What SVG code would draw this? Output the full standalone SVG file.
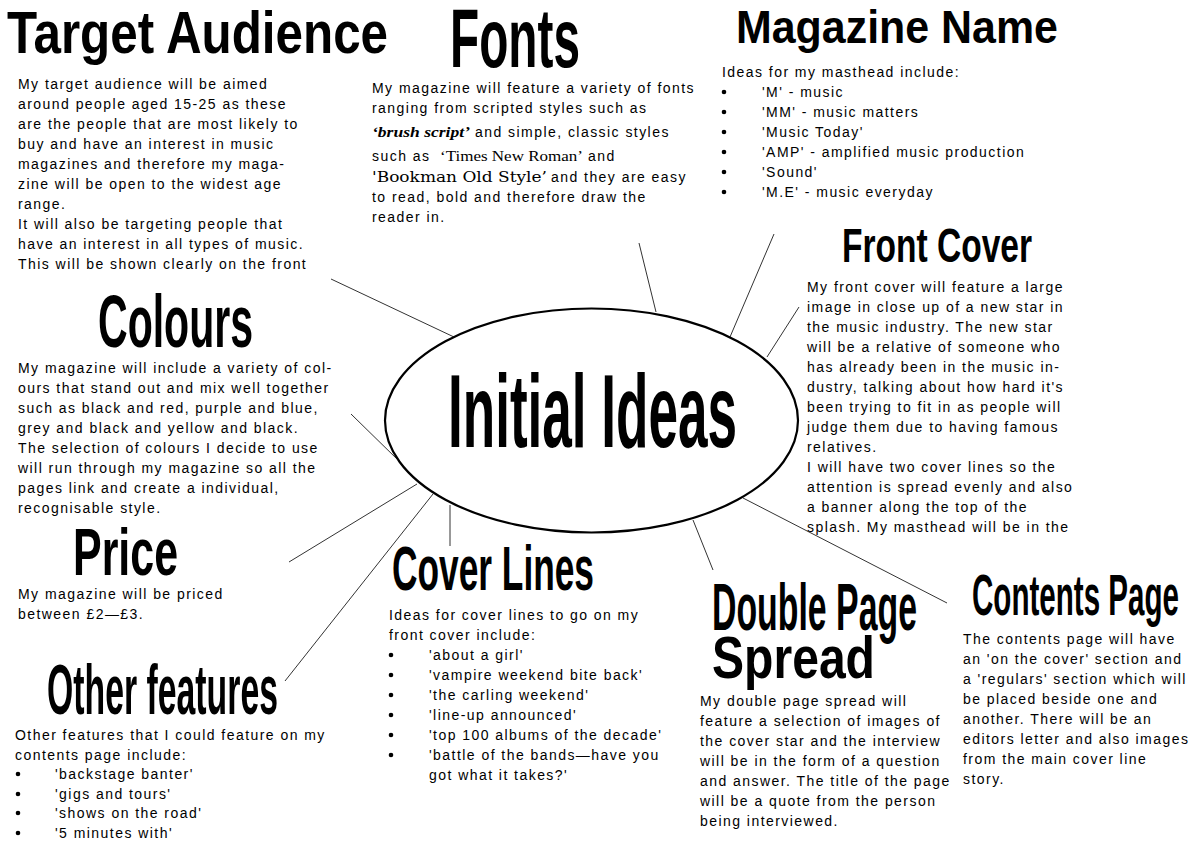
<svg xmlns="http://www.w3.org/2000/svg" width="1203" height="855" viewBox="0 0 1203 855">
<style>
.h{font-family:"Liberation Sans",Arial,sans-serif;font-weight:bold;fill:#000}
.b{font-family:"Liberation Sans",Arial,sans-serif;font-size:14px;letter-spacing:1.45px;fill:#000}
.c line{stroke:#333;stroke-width:1}
.dot{fill:#000}
</style>
<rect width="1203" height="855" fill="#fff"/>
<g class="c" id="connectors">
<line x1="331" y1="279" x2="454" y2="337"/>
<line x1="351" y1="414" x2="398" y2="460"/>
<line x1="417" y1="484" x2="289" y2="562"/>
<line x1="433" y1="494" x2="285" y2="681"/>
<line x1="450" y1="505" x2="450" y2="546"/>
<line x1="639" y1="243" x2="656" y2="312"/>
<line x1="774" y1="234" x2="730" y2="337"/>
<line x1="799" y1="307" x2="767" y2="357"/>
<line x1="693" y1="520" x2="713" y2="570"/>
<line x1="743" y1="498" x2="947" y2="603"/>
</g>
<g id="center">
<ellipse cx="591.5" cy="420.5" rx="206.5" ry="112" fill="#fff" stroke="#000" stroke-width="2.2"/>
<text class="h" x="448" y="447" font-size="103" textLength="289" lengthAdjust="spacingAndGlyphs">Initial Ideas</text>
</g>
<g id="target-audience">
<text class="h" x="7" y="53" font-size="60" textLength="381" lengthAdjust="spacingAndGlyphs">Target Audience</text>
<text class="b">
<tspan x="18" y="89">My target audience will be aimed</tspan>
<tspan x="18" y="109">around people aged 15-25 as these</tspan>
<tspan x="18" y="129">are the people that are most likely to</tspan>
<tspan x="18" y="149">buy and have an interest in music</tspan>
<tspan x="18" y="169">magazines and therefore my maga-</tspan>
<tspan x="18" y="189">zine will be open to the widest age</tspan>
<tspan x="18" y="209">range.</tspan>
<tspan x="18" y="229">It will also be targeting people that</tspan>
<tspan x="18" y="249">have an interest in all types of music.</tspan>
<tspan x="18" y="269">This will be shown clearly on the front</tspan>
</text>
</g>
<g id="fonts">
<text class="h" x="450" y="67" font-size="84" textLength="130" lengthAdjust="spacingAndGlyphs">Fonts</text>
<text class="b">
<tspan x="372" y="93">My magazine will feature a variety of fonts</tspan>
<tspan x="372" y="113">ranging from scripted styles such as</tspan>
<tspan x="475" y="137">and simple, classic styles</tspan>
<tspan x="372" y="161">such as</tspan>
<tspan x="588" y="161">and</tspan>
<tspan x="551" y="182">and they are easy</tspan>
<tspan x="372" y="202">to read, bold and therefore draw the</tspan>
<tspan x="372" y="222">reader in.</tspan>
</text>
<text x="372" y="137" font-family="'Liberation Serif',serif" font-style="italic" font-weight="bold" font-size="15" textLength="98" lengthAdjust="spacingAndGlyphs">‘brush script’</text>
<text x="440" y="161" font-family="'Liberation Serif',serif" font-size="15" textLength="143" lengthAdjust="spacingAndGlyphs">‘Times New Roman’</text>
<text x="372" y="182" font-family="'DejaVu Serif',serif" font-size="14" textLength="175" lengthAdjust="spacingAndGlyphs">'Bookman Old Style’</text>
</g>
<g id="magazine-name">
<text class="h" x="736" y="43" font-size="46" textLength="322" lengthAdjust="spacingAndGlyphs">Magazine Name</text>
<text class="b">
<tspan x="722" y="77">Ideas for my masthead include:</tspan>
<tspan x="762" y="97">'M' - music</tspan>
<tspan x="762" y="117">'MM' - music matters</tspan>
<tspan x="762" y="137">'Music Today'</tspan>
<tspan x="762" y="157">'AMP' - amplified music production</tspan>
<tspan x="762" y="177">'Sound'</tspan>
<tspan x="762" y="197">'M.E' - music everyday</tspan>
</text>
<circle class="dot" cx="724" cy="92" r="2.3"/>
<circle class="dot" cx="724" cy="112" r="2.3"/>
<circle class="dot" cx="724" cy="132" r="2.3"/>
<circle class="dot" cx="724" cy="152" r="2.3"/>
<circle class="dot" cx="724" cy="172" r="2.3"/>
<circle class="dot" cx="724" cy="192" r="2.3"/>
</g>
<g id="front-cover">
<text class="h" x="842" y="262" font-size="49" textLength="190" lengthAdjust="spacingAndGlyphs">Front Cover</text>
<text class="b">
<tspan x="807" y="292">My front cover will feature a large</tspan>
<tspan x="807" y="312">image in close up of a new star in</tspan>
<tspan x="807" y="332">the music industry. The new star</tspan>
<tspan x="807" y="352">will be a relative of someone who</tspan>
<tspan x="807" y="372">has already been in the music in-</tspan>
<tspan x="807" y="392">dustry, talking about how hard it's</tspan>
<tspan x="807" y="412">been trying to fit in as people will</tspan>
<tspan x="807" y="432">judge them due to having famous</tspan>
<tspan x="807" y="452">relatives.</tspan>
<tspan x="807" y="472">I will have two cover lines so the</tspan>
<tspan x="807" y="492">attention is spread evenly and also</tspan>
<tspan x="807" y="512">a banner along the top of the</tspan>
<tspan x="807" y="532">splash. My masthead will be in the</tspan>
</text>
</g>
<g id="colours">
<text class="h" x="98" y="347" font-size="74" textLength="155" lengthAdjust="spacingAndGlyphs">Colours</text>
<text class="b">
<tspan x="18" y="373">My magazine will include a variety of col-</tspan>
<tspan x="18" y="393">ours that stand out and mix well together</tspan>
<tspan x="18" y="413">such as black and red, purple and blue,</tspan>
<tspan x="18" y="433">grey and black and yellow and black.</tspan>
<tspan x="18" y="453">The selection of colours I decide to use</tspan>
<tspan x="18" y="473">will run through my magazine so all the</tspan>
<tspan x="18" y="493">pages link and create a individual,</tspan>
<tspan x="18" y="513">recognisable style.</tspan>
</text>
</g>
<g id="price">
<text class="h" x="73" y="575" font-size="67" textLength="105" lengthAdjust="spacingAndGlyphs">Price</text>
<text class="b">
<tspan x="18" y="599">My magazine will be priced</tspan>
<tspan x="18" y="619">between £2—£3.</tspan>
</text>
</g>
<g id="other-features">
<text class="h" x="47" y="714" font-size="71" textLength="231" lengthAdjust="spacingAndGlyphs">Other features</text>
<text class="b">
<tspan x="15" y="740">Other features that I could feature on my</tspan>
<tspan x="15" y="760">contents page include:</tspan>
<tspan x="55" y="779">'backstage banter'</tspan>
<tspan x="55" y="799">'gigs and tours'</tspan>
<tspan x="55" y="818">'shows on the road'</tspan>
<tspan x="55" y="838">'5 minutes with'</tspan>
</text>
<circle class="dot" cx="18" cy="774" r="2.3"/>
<circle class="dot" cx="18" cy="794" r="2.3"/>
<circle class="dot" cx="18" cy="813" r="2.3"/>
<circle class="dot" cx="18" cy="833" r="2.3"/>
</g>
<g id="cover-lines">
<text class="h" x="392" y="590" font-size="63" textLength="202" lengthAdjust="spacingAndGlyphs">Cover Lines</text>
<text class="b">
<tspan x="389" y="620">Ideas for cover lines to go on my</tspan>
<tspan x="389" y="640">front cover include:</tspan>
<tspan x="429" y="660">'about a girl'</tspan>
<tspan x="429" y="680">'vampire weekend bite back'</tspan>
<tspan x="429" y="700">'the carling weekend'</tspan>
<tspan x="429" y="720">'line-up announced'</tspan>
<tspan x="429" y="740">'top 100 albums of the decade'</tspan>
<tspan x="429" y="760">'battle of the bands—have you</tspan>
<tspan x="429" y="780">got what it takes?'</tspan>
</text>
<circle class="dot" cx="391" cy="655" r="2.3"/>
<circle class="dot" cx="391" cy="675" r="2.3"/>
<circle class="dot" cx="391" cy="695" r="2.3"/>
<circle class="dot" cx="391" cy="715" r="2.3"/>
<circle class="dot" cx="391" cy="735" r="2.3"/>
<circle class="dot" cx="391" cy="755" r="2.3"/>
</g>
<g id="double-page-spread">
<text class="h" x="712" y="630" font-size="67" textLength="205" lengthAdjust="spacingAndGlyphs">Double Page</text>
<text class="h" x="712" y="678" font-size="59" textLength="163" lengthAdjust="spacingAndGlyphs">Spread</text>
<text class="b">
<tspan x="700" y="706">My double page spread will</tspan>
<tspan x="700" y="726">feature a selection of images of</tspan>
<tspan x="700" y="746">the cover star and the interview</tspan>
<tspan x="700" y="766">will be in the form of a question</tspan>
<tspan x="700" y="786">and answer. The title of the page</tspan>
<tspan x="700" y="806">will be a quote from the person</tspan>
<tspan x="700" y="826">being interviewed.</tspan>
</text>
</g>
<g id="contents-page">
<text class="h" x="972" y="615" font-size="58" textLength="207" lengthAdjust="spacingAndGlyphs">Contents Page</text>
<text class="b">
<tspan x="963" y="644">The contents page will have</tspan>
<tspan x="963" y="664">an 'on the cover' section and</tspan>
<tspan x="963" y="684">a 'regulars' section which will</tspan>
<tspan x="963" y="704">be placed beside one and</tspan>
<tspan x="963" y="724">another. There will be an</tspan>
<tspan x="963" y="744">editors letter and also images</tspan>
<tspan x="963" y="764">from the main cover line</tspan>
<tspan x="963" y="784">story.</tspan>
</text>
</g>
</svg>
